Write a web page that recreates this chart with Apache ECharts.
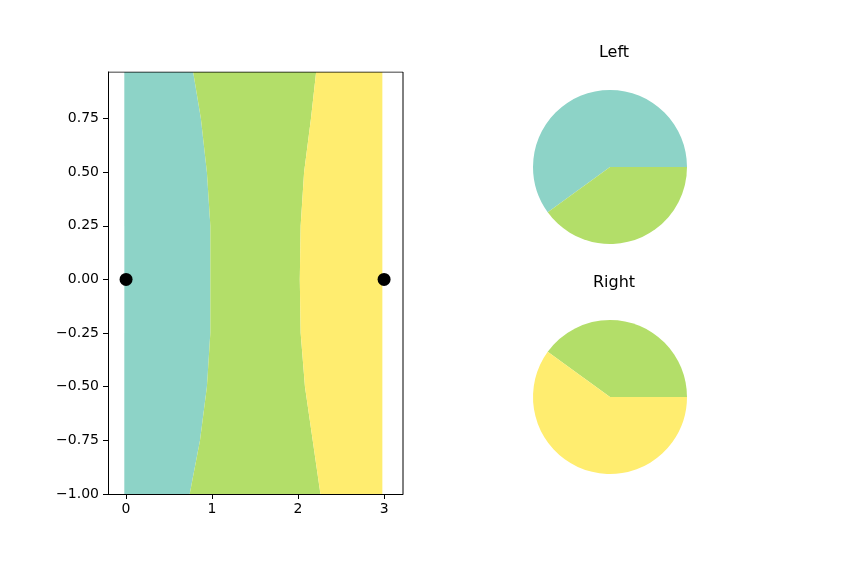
<!DOCTYPE html><html><head><meta charset="utf-8"><script src="https://cdn.jsdelivr.net/npm/echarts@6/dist/echarts.min.js"></script></head><body style="margin:0"><div id="c" style="width:846px;height:568px"></div><script>
const yLevels=[-1,-0.75,-0.5,-0.25,0,0.25,0.5,0.75,0.967];
const boundary1=[0.74,0.86,0.94,0.98,0.98,0.98,0.94,0.87,0.78];
const boundary2=[2.26,2.17,2.08,2.03,2.02,2.03,2.07,2.15,2.21];
const xLeft=-0.02, xRight=2.98;
const points=[[0,0],[3,0]];
const regionColors=['#8dd3c7','#b3de69','#ffed6f'];
const leftPie=[0.6,0.4];
const rightPie=[0.4,0.6];
const xTicks=[0,1,2,3];
const yTicks=[-1,-0.75,-0.5,-0.25,0,0.25,0.5,0.75];
function poly(api,lx,rx){const pts=[];for(let i=0;i<yLevels.length;i++)pts.push(api.coord([lx[i],yLevels[i]]));for(let i=yLevels.length-1;i>=0;i--)pts.push(api.coord([rx[i],yLevels[i]]));return pts;}
const L=yLevels.map(()=>xLeft),R=yLevels.map(()=>xRight);
const regions=[[L,boundary1],[boundary1,boundary2],[boundary2,R]];
const ax={color:'#000',fontSize:14,fontFamily:'DejaVu Sans'};
const tf={fontSize:16,fontWeight:'normal',color:'#000',fontFamily:'DejaVu Sans'};
const chart=echarts.init(document.getElementById('c'));
chart.setOption({animation:false,
title:[{text:'Left',left:609,top:40,textAlign:'center',textStyle:tf},{text:'Right',left:609,top:270,textAlign:'center',textStyle:tf}],
grid:{left:108,top:72,width:295,height:422},
xAxis:{type:'value',min:-0.21,max:3.22,splitLine:{show:false},axisLine:{onZero:false,lineStyle:{color:'#000'}},axisTick:{show:true,length:5,customValues:xTicks,lineStyle:{color:'#000'}},axisLabel:{customValues:xTicks,margin:8,...ax}},
yAxis:{type:'value',min:-1,max:0.967,splitLine:{show:false},axisLine:{show:true,onZero:false,lineStyle:{color:'#000'}},axisTick:{show:true,length:5,customValues:yTicks,lineStyle:{color:'#000'}},axisLabel:{customValues:yTicks,margin:9,formatter:v=>(v<0?'\u2212':'')+Math.abs(v).toFixed(2),...ax}},
series:[
{type:'custom',data:[0,1,2],renderItem:(p,api)=>{const r=regions[p.dataIndex];return{type:'polygon',shape:{points:poly(api,r[0],r[1])},style:{fill:regionColors[p.dataIndex]}};},z:1},
{type:'scatter',data:points,symbolSize:13,itemStyle:{color:'#000',opacity:1},z:5},
{type:'line',data:[[-0.21,0.967],[3.22,0.967],[3.22,-1]],symbol:'none',lineStyle:{color:'#000',width:1},z:6},
{type:'pie',center:[610,167],radius:77,startAngle:0,clockwise:false,label:{show:false},data:[{name:'L1',value:leftPie[0],itemStyle:{color:regionColors[0]}},{name:'L2',value:leftPie[1],itemStyle:{color:regionColors[1]}}]},
{type:'pie',center:[610,397],radius:77,startAngle:0,clockwise:false,label:{show:false},data:[{name:'R1',value:rightPie[0],itemStyle:{color:regionColors[1]}},{name:'R2',value:rightPie[1],itemStyle:{color:regionColors[2]}}]}
]});
</script></body></html>
